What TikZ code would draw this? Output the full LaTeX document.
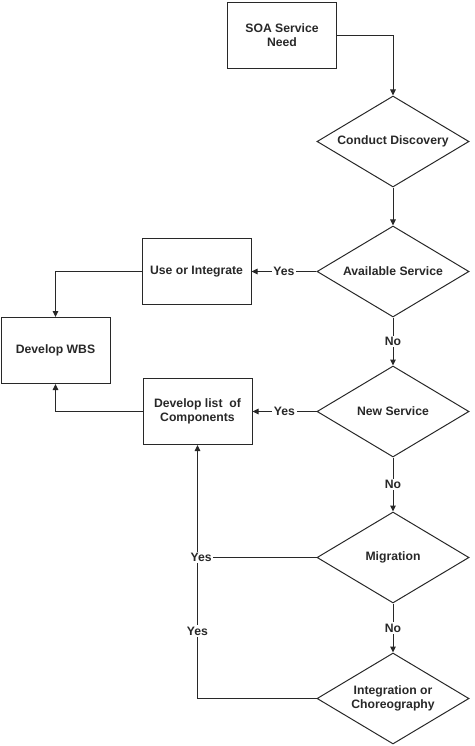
\documentclass[tikz,border=0pt]{standalone}
\usepackage{fontspec}
\setmainfont{Liberation Sans}
\usetikzlibrary{arrows.meta, positioning, shapes.geometric}
\definecolor{ink}{RGB}{40,40,40}

\begin{document}
\begin{tikzpicture}[
  x=1pt, y=-1pt,
  node distance=40pt and 65pt,
  every node/.style={font=\fontsize{12.2}{14}\selectfont\bfseries, text=ink},
  box/.style={rectangle, draw=ink, line width=1pt, align=center, minimum width=109pt, minimum height=66pt},
  decision/.style={diamond, draw=ink, line width=1pt, align=center, aspect=1.67, inner sep=0pt, minimum width=152pt, minimum height=91pt},
  lbl/.style={fill=white, inner sep=1.5pt},
  flow/.style={draw=ink, line width=1pt, -{Triangle[length=6pt, width=5.5pt]}}
]
\useasboundingbox (0,0) rectangle (474,746);

\node[box] (need) at (282,35.5) {SOA Service\\Need};
\node[decision] (discovery) at (393,141.5) {Conduct Discovery};
\node[decision, below=38pt of discovery] (available) {Available Service};
\node[decision, below=48pt of available] (newsvc) {New Service};
\node[decision, below=54pt of newsvc] (migration) {Migration};
\node[decision, below=49pt of migration] (integ) {Integration or\\Choreography};
\node[box, left=65pt of available] (use) {Use or Integrate};
\node[box, left=64pt of newsvc] (comp) {Develop list\ \ of\\Components};
\node[box, below left=12pt and 31pt of use] (wbs) {Develop WBS};
\coordinate (join) at (comp.south |- migration.west);

\draw[flow] (need.east) -| (discovery.north);
\draw[flow] (discovery) -- (available);
\draw[flow] (available) -- (use) node[midway, lbl]{Yes};
\draw[flow] (available) -- (newsvc) node[midway, lbl]{No};
\draw[flow] (newsvc) -- (comp) node[midway, lbl]{Yes};
\draw[flow] (newsvc) -- (migration) node[midway, lbl]{No};
\draw[flow] (migration) -- (integ) node[midway, lbl]{No};
\draw[flow] (use.west) -| (wbs.north);
\draw[flow] (comp.west) -| (wbs.south);
\draw[flow] (integ.west) -| (comp.south) node[pos=0.633, lbl]{Yes};
\draw[draw=ink, line width=1pt] (migration.west) -- (join) node[pos=0.97, lbl]{Yes};

\end{tikzpicture}
\end{document}
